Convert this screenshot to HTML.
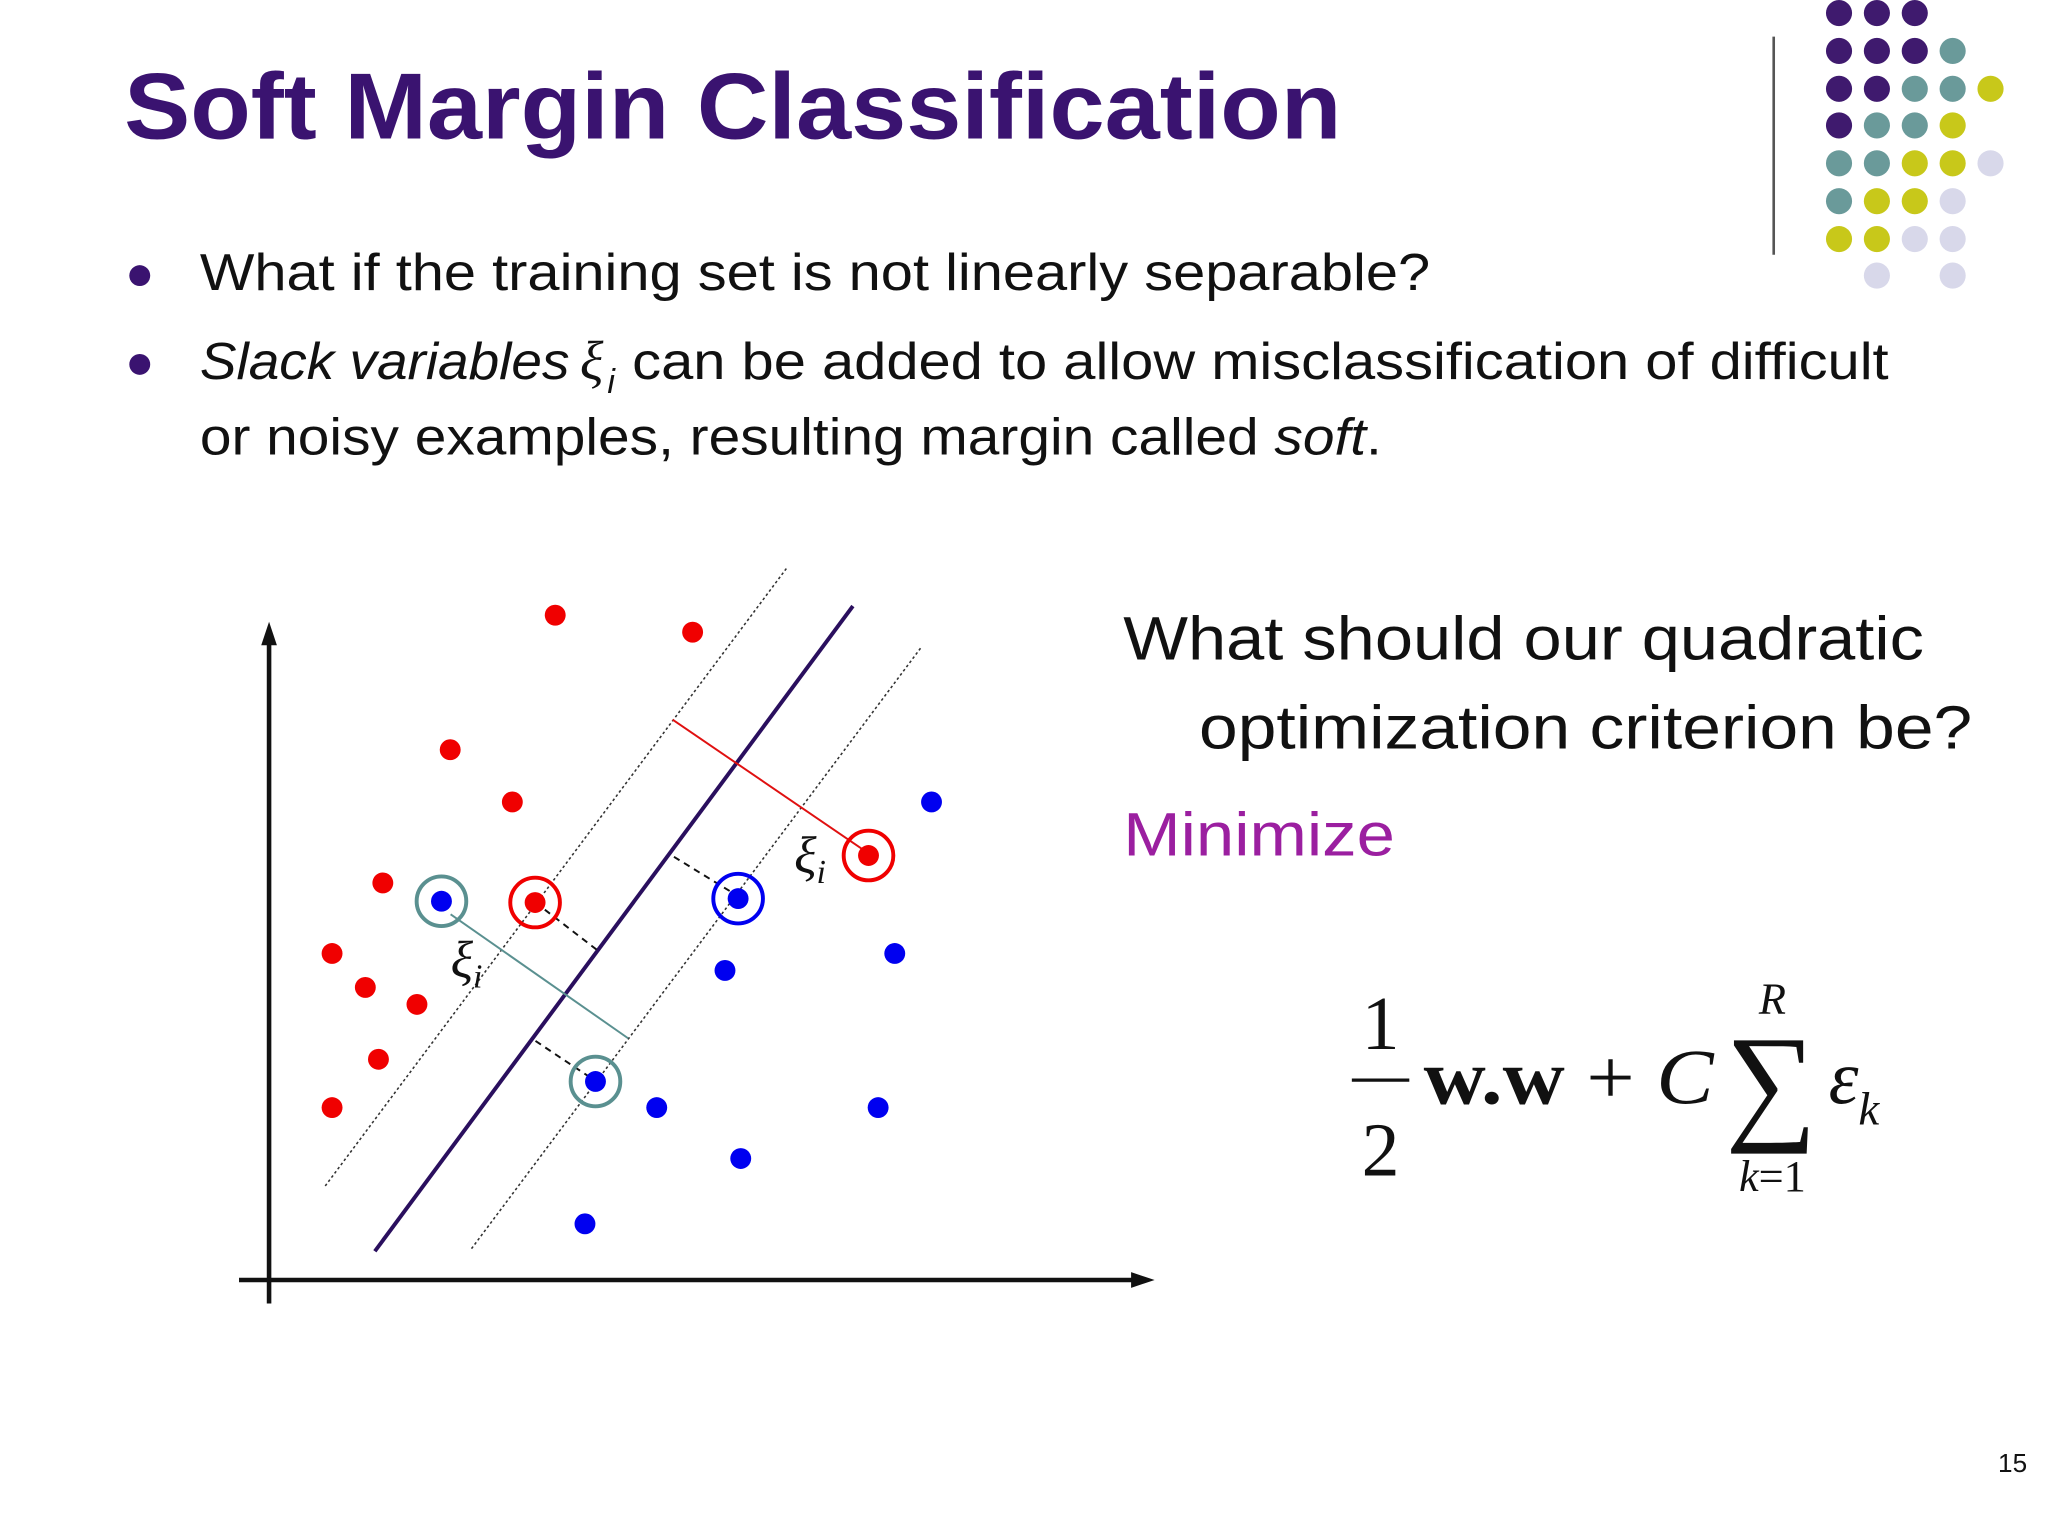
<!DOCTYPE html>
<html><head><meta charset="utf-8"><style>
html,body{margin:0;padding:0;background:#fff;}
svg{display:block;}
</style></head><body>
<svg id="slide" width="2048" height="1536" viewBox="0 0 1568 1176" xmlns="http://www.w3.org/2000/svg">
<rect width="1568" height="1176" fill="#fff"/>
<text x="95" y="106" font-family="Liberation Sans, sans-serif" font-weight="bold" font-size="72" fill="#3a1370" textLength="932" lengthAdjust="spacingAndGlyphs">Soft Margin Classification</text>
<line x1="1358" y1="28" x2="1358" y2="195" stroke="#555" stroke-width="2"/>
<g id="dots"></g>
<circle cx="107" cy="211" r="8" fill="#3a1370"/>
<text x="153" y="222" font-family="Liberation Sans, sans-serif" font-size="40" fill="#111" textLength="942" lengthAdjust="spacingAndGlyphs">What if the training set is not linearly separable?</text>
<circle cx="107" cy="279" r="8" fill="#3a1370"/>
<text x="153" y="290" font-family="Liberation Sans, sans-serif" font-size="40" fill="#111" font-style="italic" textLength="283" lengthAdjust="spacingAndGlyphs">Slack variables</text>
<text x="444" y="290" font-family="Liberation Serif, serif" font-size="42" fill="#111" font-style="italic">ξ</text>
<text x="465" y="301" font-family="Liberation Sans, sans-serif" font-size="26" font-style="italic" fill="#111">i</text>
<text x="484" y="290" font-family="Liberation Sans, sans-serif" font-size="40" fill="#111" textLength="962" lengthAdjust="spacingAndGlyphs">can be added to allow misclassification of difficult</text>
<text x="153" y="348" font-family="Liberation Sans, sans-serif" font-size="40" fill="#111" textLength="905" lengthAdjust="spacingAndGlyphs">or noisy examples, resulting margin called <tspan font-style="italic">soft</tspan>.</text>
<g id="chart"></g>
<text x="860" y="505" font-family="Liberation Sans, sans-serif" font-size="47" fill="#111" textLength="613" lengthAdjust="spacingAndGlyphs">What should our quadratic</text>
<text x="918" y="573" font-family="Liberation Sans, sans-serif" font-size="47" fill="#111" textLength="592" lengthAdjust="spacingAndGlyphs">optimization criterion be?</text>
<text x="860" y="655" font-family="Liberation Sans, sans-serif" font-size="47" fill="#9b1fa0" textLength="208" lengthAdjust="spacingAndGlyphs">Minimize</text>
<g font-family="Liberation Serif, serif" fill="#111">
<text x="1057" y="803" font-size="58" text-anchor="middle">1</text>
<line x1="1035" y1="827" x2="1079" y2="827" stroke="#111" stroke-width="2.5"/>
<text x="1057" y="900" font-size="58" text-anchor="middle">2</text>
<text x="1090" y="845" font-size="60" textLength="222" lengthAdjust="spacingAndGlyphs"><tspan font-weight="bold">w.w</tspan> + <tspan font-style="italic">C</tspan></text>
<text x="1356" y="862" font-size="100" text-anchor="middle" textLength="70" lengthAdjust="spacingAndGlyphs">∑</text>
<text x="1357" y="776" font-size="34" font-style="italic" text-anchor="middle">R</text>
<text x="1357" y="912" font-size="34" text-anchor="middle"><tspan font-style="italic">k</tspan>=1</text>
<text x="1400" y="845" font-size="58" font-style="italic">ε<tspan font-size="36" dy="16">k</tspan></text>
</g>
<text x="1552" y="1127" font-family="Liberation Sans, sans-serif" font-size="20" text-anchor="end" fill="#111">15</text>
</svg>
<script>
const NS='http://www.w3.org/2000/svg';
const redX=[32.7,48.4,20.7,27.8,13.0,7.2,11.0,16.9,12.5,7.2,30.4,68.5];
const redY=[101.8,99.2,81.2,73.2,60.8,50,44.8,42.2,33.8,26.4,57.8,65];
const redCircled=[false,false,false,false,false,false,false,false,false,false,true,true];
const blueX=[75.7,71.5,52.1,44.3,69.6,53.9,36.1,19.7,37.3,53.6];
const blueY=[73.2,50,47.4,26.4,26.4,18.6,8.6,58,30.4,58.4];
const blueCircle=['','','','','','','','teal','teal','blue'];
function xs(v){return 206+v*6.7;}
function ys(v){return 980-v*5;}
function mk(tag,attrs,parent){const e=document.createElementNS(NS,tag);for(const k in attrs)e.setAttribute(k,attrs[k]);parent.appendChild(e);return e;}
const chart=document.getElementById('chart');
let e;
e=mk('line',{x1:206,y1:998,x2:206,y2:488,stroke:'#111','stroke-width':3.5},chart);


e=mk('polygon',{points:'206,476 200,494 212,494',fill:'#111'},chart);


e=mk('line',{x1:183,y1:980,x2:870,y2:980,stroke:'#111','stroke-width':3.5},chart);


e=mk('polygon',{points:'884,980 866,974 866,986',fill:'#111'},chart);


e=mk('line',{x1:249,y1:908,x2:603,y2:434,stroke:'#333','stroke-width':1.2,'stroke-dasharray':'2,2'},chart);


e=mk('line',{x1:361,y1:956,x2:705,y2:496,stroke:'#333','stroke-width':1.2,'stroke-dasharray':'2,2'},chart);


e=mk('line',{x1:287,y1:958,x2:653,y2:464,stroke:'#2a0f5e','stroke-width':3},chart);


e=mk('line',{x1:515,y1:551,x2:660,y2:650,stroke:'#e01010','stroke-width':1.5},chart);


e=mk('line',{x1:345,y1:700,x2:481,y2:795,stroke:'#5a9090','stroke-width':1.5},chart);


[[410,691,458,728],[516,656,560,683],[410,797,452,825]].forEach(function(d){
e=mk('line',{x1:d[0],y1:d[1],x2:d[2],y2:d[3],stroke:'#111','stroke-width':1.5,'stroke-dasharray':'5,4'},chart);


});
for(let i=0;i<redX.length;i++){
 e=mk('circle',{cx:xs(redX[i]),cy:ys(redY[i]),r:8,fill:'#f00000'},chart);
 
 
 if(redCircled[i]){
  e=mk('circle',{cx:xs(redX[i]),cy:ys(redY[i]),r:19,fill:'none',stroke:'#f00000','stroke-width':3},chart);
  
  
 }
}
for(let i=0;i<blueX.length;i++){
 e=mk('circle',{cx:xs(blueX[i]),cy:ys(blueY[i]),r:8,fill:'#0000f0'},chart);
 
 
 if(blueCircle[i]){
  e=mk('circle',{cx:xs(blueX[i]),cy:ys(blueY[i]),r:19,fill:'none',stroke:blueCircle[i]==='teal'?'#5a9090':'#0000f0','stroke-width':3},chart);
  
  
 }
}
[[608,668],[345,748]].forEach(function(p){
 e=mk('text',{x:p[0],y:p[1],'font-family':'Liberation Serif, serif','font-style':'italic','font-size':40,fill:'#111'},chart);
 e.textContent='ξ';
 
 
 const t=mk('tspan',{'font-size':26,dy:8},e);t.textContent='i';
});
const dotCols=[1408,1437,1466,1495,1524];
const dotRows=[10,39,68,96,125,154,183,211];
const dotPattern=['PPP..','PPPT.','PPTTY','PTTY.','TTYYL','TYYL.','YYLL.','.L.L.'];
const dotColors={P:'#3f1a6e',T:'#6a9a9a',Y:'#c8c81a',L:'#d8d8ea'};
const dots=document.getElementById('dots');
dotRows.forEach(function(y,r){
 dotPattern[r].split('').forEach(function(c,ci){
  if(c==='.')return;
  e=mk('circle',{cx:dotCols[ci],cy:y,r:10,fill:dotColors[c]},dots);
  
  
 });
});
</script>
</body></html>
